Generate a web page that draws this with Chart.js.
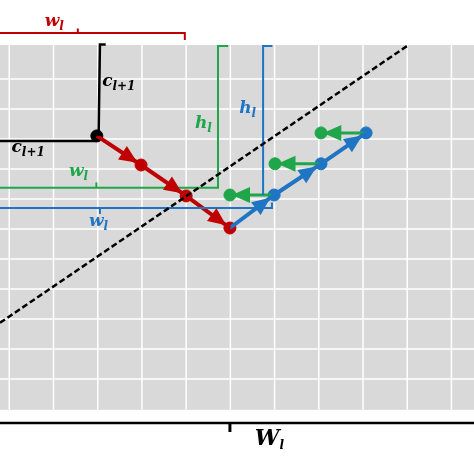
<!DOCTYPE html>
<html>
<head>
<meta charset="utf-8">
<script src="https://cdn.jsdelivr.net/npm/chart.js@4/dist/chart.umd.min.js"></script>
<style>
  html, body { margin: 0; padding: 0; background: #fff; }
  #wrap { width: 474px; height: 474px; }
</style>
</head>
<body>
<div id="wrap"><canvas id="chart"></canvas></div>
<script>
// grid units: one cell in x, one cell in y
const xRange = [-0.21, 10.51];
const yRange = [-3.17, 12.63];
const grayBand = [-1.03, 11.13];
const gridX = [0, 1, 2, 3, 4, 5, 6, 7, 8, 9, 10];
const gridY = [0, 1, 2, 3, 4, 5, 6, 7, 8, 9, 10];

const redPath = [[1.98, 8.1], [2.98, 7.13], [4.0, 6.1], [4.99, 5.03]];
const bluePath = [[4.99, 5.03], [5.99, 6.13], [7.05, 7.17], [8.07, 8.2]];
const bluePoints = [[5.99, 6.13], [7.05, 7.17], [8.07, 8.2]];
const greenPoints = [[4.99, 6.13], [6.01, 7.17], [7.05, 8.2]];
const blackPoint = [[1.98, 8.1]];

const blackVertical = [[2.02, 8.1], [2.05, 11.15], [2.18, 11.15]];
const blackHorizontal = [[-0.21, 7.93], [1.98, 7.93]];
const redBracket = [[-0.21, 11.53], [3.97, 11.53], [3.97, 11.3]];
const redTick = [[1.55, 11.53], [1.55, 11.68]];
const greenBracket = [[-0.21, 6.37], [4.72, 6.37], [4.72, 11.1], [4.95, 11.1]];
const greenTick = [[1.97, 6.37], [1.97, 6.55]];
const blueBracket = [[-0.21, 5.7], [5.94, 5.7], [5.94, 5.88]];
const blueVertical = [[5.74, 6.13], [5.74, 11.1], [5.95, 11.1]];
const blueTick = [[2.05, 5.7], [2.05, 5.5]];
const diagonal = [[-0.21, 1.87], [9.0, 11.1]];
const bottomAxis = [[-0.21, -1.47], [10.51, -1.47]];
const bottomTick = [[4.99, -1.47], [4.99, -1.77]];

const RED = '#c00000';
const BLUE = '#1f74c4';
const GREEN = '#1fa64a';
const BLACK = '#000000';

// [segment start, segment end, colour]
const arrows = [
  [redPath[0], redPath[1], RED], [redPath[1], redPath[2], RED], [redPath[2], redPath[3], RED],
  [bluePath[0], bluePath[1], BLUE], [bluePath[1], bluePath[2], BLUE], [bluePath[2], bluePath[3], BLUE],
  [bluePoints[0], greenPoints[0], GREEN], [bluePoints[1], greenPoints[1], GREEN], [bluePoints[2], greenPoints[2], GREEN]
];

// [text, subscript, x, y, colour]
const labels = [
  ['w', 'l', 0.8, 11.75, RED],
  ['c', 'l+1', 2.1, 9.75, BLACK],
  ['c', 'l+1', 0.05, 7.55, BLACK],
  ['h', 'l', 4.2, 8.35, GREEN],
  ['h', 'l', 5.2, 8.85, BLUE],
  ['w', 'l', 1.35, 6.75, GREEN],
  ['w', 'l', 1.8, 5.1, BLUE],
  ['W', 'l', 5.55, -2.2, BLACK]
];

const toXY = (pts) => pts.map(([x, y]) => ({ x, y }));

function lineSet(pts, color, width, dash) {
  return {
    data: toXY(pts), borderColor: color, borderWidth: width, borderDash: dash || [],
    showLine: true, pointRadius: 0, fill: false, tension: 0
  };
}

function pointSet(pts, color, radius) {
  return {
    data: toXY(pts), showLine: false, pointRadius: radius,
    pointBackgroundColor: color, pointBorderColor: color
  };
}

const backdrop = {
  id: 'backdrop',
  beforeDatasetsDraw(chart) {
    const { ctx, scales: { x, y } } = chart;
    ctx.save();
    ctx.fillStyle = '#d9d9d9';
    const top = y.getPixelForValue(grayBand[1]);
    const bottom = y.getPixelForValue(grayBand[0]);
    ctx.fillRect(0, top, chart.width, bottom - top);
    ctx.strokeStyle = '#ffffff';
    ctx.lineWidth = 1.5;
    gridX.forEach((v) => {
      const px = x.getPixelForValue(v);
      ctx.beginPath(); ctx.moveTo(px, top); ctx.lineTo(px, bottom); ctx.stroke();
    });
    gridY.forEach((v) => {
      const py = y.getPixelForValue(v);
      ctx.beginPath(); ctx.moveTo(0, py); ctx.lineTo(chart.width, py); ctx.stroke();
    });
    ctx.restore();
  }
};

const decorations = {
  id: 'decorations',
  afterDatasetsDraw(chart) {
    const { ctx, scales: { x, y } } = chart;
    ctx.save();
    arrows.forEach(([a, b, color]) => {
      const x0 = x.getPixelForValue(a[0]), y0 = y.getPixelForValue(a[1]);
      const x1 = x.getPixelForValue(b[0]), y1 = y.getPixelForValue(b[1]);
      const ang = Math.atan2(y1 - y0, x1 - x0);
      const tx = x0 + (x1 - x0) * 0.75, ty = y0 + (y1 - y0) * 0.75;
      ctx.fillStyle = color;
      ctx.beginPath();
      ctx.moveTo(tx + Math.cos(ang) * 9, ty + Math.sin(ang) * 9);
      ctx.lineTo(tx - Math.cos(ang) * 9 + Math.sin(ang) * 8, ty - Math.sin(ang) * 9 - Math.cos(ang) * 8);
      ctx.lineTo(tx - Math.cos(ang) * 9 - Math.sin(ang) * 8, ty - Math.sin(ang) * 9 + Math.cos(ang) * 8);
      ctx.closePath();
      ctx.fill();
    });
    labels.forEach(([txt, sub, lx, ly, color]) => {
      const px = x.getPixelForValue(lx), py = y.getPixelForValue(ly);
      ctx.fillStyle = color;
      ctx.textBaseline = 'alphabetic';
      ctx.font = txt === 'W' ? 'bold italic 22px "DejaVu Serif"' : 'bold italic 17px "DejaVu Serif"';
      ctx.fillText(txt, px, py);
      const w = ctx.measureText(txt).width;
      ctx.font = 'bold italic 12px "DejaVu Serif"';
      ctx.fillText(sub, px + w, py + 4);
    });
    ctx.restore();
  }
};

new Chart(document.getElementById('chart'), {
  type: 'scatter',
  data: {
    datasets: [
      lineSet(diagonal, BLACK, 2.5, [6, 3]),
      lineSet(blackVertical, BLACK, 2.5),
      lineSet(blackHorizontal, BLACK, 2.5),
      lineSet(redBracket, RED, 2),
      lineSet(redTick, RED, 2),
      lineSet(greenBracket, GREEN, 2),
      lineSet(greenTick, GREEN, 2),
      lineSet(blueBracket, BLUE, 2),
      lineSet(blueVertical, BLUE, 2),
      lineSet(blueTick, BLUE, 2),
      lineSet(bottomAxis, BLACK, 2.5),
      lineSet(bottomTick, BLACK, 3),
      lineSet(redPath, RED, 4),
      lineSet(bluePath, BLUE, 4),
      ...bluePoints.map((p, i) => lineSet([p, greenPoints[i]], GREEN, 3)),
      pointSet(greenPoints, GREEN, 6),
      pointSet(bluePoints, BLUE, 6),
      pointSet(redPath.slice(1), RED, 6),
      pointSet(blackPoint, BLACK, 6)
    ]
  },
  options: {
    responsive: true,
    maintainAspectRatio: false,
    animation: false,
    layout: { padding: 0, autoPadding: false },
    plugins: { legend: { display: false }, tooltip: { enabled: false } },
    scales: {
      x: { type: 'linear', min: xRange[0], max: xRange[1], display: false },
      y: { type: 'linear', min: yRange[0], max: yRange[1], display: false }
    }
  },
  plugins: [backdrop, decorations]
});
</script>
</body>
</html>
